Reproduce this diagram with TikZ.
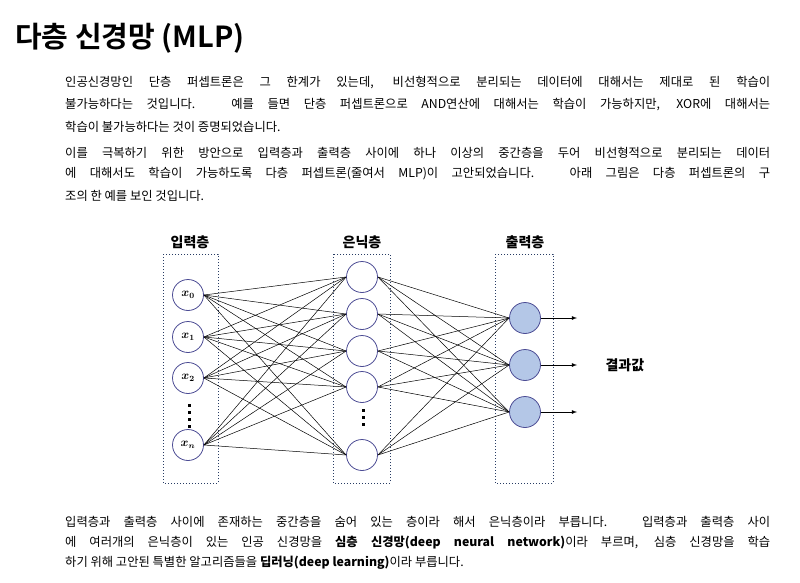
\documentclass[tikz,border=0pt]{standalone}
\usepackage{fontspec}
\setmainfont{Noto Sans CJK KR}
\newfontfamily\titlefont{Noto Sans CJK KR Bold}
\usepackage{amsmath}
\newcommand\fl[1]{\makebox[705pt][s]{#1}}
\newcommand\xv[1]{\ensuremath{\boldsymbol{x}_{\boldsymbol{#1}}}}
\begin{document}
\begin{tikzpicture}[x=1pt,y=-1pt,
  inp/.style={circle,draw=blue!40!black!70,line width=0.8pt,minimum size=31pt,inner sep=0pt,fill=white,font=\large},
  hid/.style={circle,draw=blue!40!black!70,line width=0.8pt,minimum size=31pt,inner sep=0pt,fill=white},
  outn/.style={circle,draw=blue!40!black!70,line width=0.8pt,minimum size=31pt,inner sep=0pt,fill={rgb,255:red,180;green,199;blue,231}},
  layerbox/.style={draw={rgb,255:red,40;green,60;blue,100},dotted,line width=1pt},
  txt/.style={anchor=west,inner sep=0pt,font=\fontsize{12.3}{14}\selectfont},
  lbl/.style={font=\fontsize{14}{16}\selectfont\bfseries},
  wire/.style={line width=0.5pt},
  dotsq/.style={fill=black,minimum width=3pt,minimum height=3pt,inner sep=0pt}]
\useasboundingbox (0,0) rectangle (800,583);
\node[anchor=west,inner sep=0pt,font=\fontsize{29}{32}\titlefont] (title) at (15,38) {다층 신경망 (MLP)};
\node[txt] (p1) at (65,83) {\fl{인공신경망인 단층 퍼셉트론은 그 한계가 있는데, 비선형적으로 분리되는 데이터에 대해서는 제대로 된 학습이}};
\node[txt] (p2) at (65,105) {\fl{불가능하다는 것입니다. 예를 들면 단층 퍼셉트론으로 AND연산에 대해서는 학습이 가능하지만, XOR에 대해서는}};
\node[txt] (p3) at (65,127) {학습이 불가능하다는 것이 증명되었습니다.};
\node[txt] (p4) at (65,153) {\fl{이를 극복하기 위한 방안으로 입력층과 출력층 사이에 하나 이상의 중간층을 두어 비선형적으로 분리되는 데이터}};
\node[txt] (p5) at (65,174) {\fl{에 대해서도 학습이 가능하도록 다층 퍼셉트론(줄여서 MLP)이 고안되었습니다. 아래 그림은 다층 퍼셉트론의 구}};
\node[txt] (p6) at (65,196) {조의 한 예를 보인 것입니다.};
\node[txt] (q1) at (65,522) {\fl{입력층과 출력층 사이에 존재하는 중간층을 숨어 있는 층이라 해서 은닉층이라 부릅니다. 입력층과 출력층 사이}};
\node[txt] (q2) at (65,543) {\fl{에 여러개의 은닉층이 있는 인공 신경망을 \textbf{심층 신경망(deep neural network)}이라 부르며, 심층 신경망을 학습}};
\node[txt] (q3) at (65,563) {하기 위해 고안된 특별한 알고리즘들을 \textbf{딥러닝(deep learning)}이라 부릅니다.};
\draw[layerbox] (163,254) rectangle (218,483);
\draw[layerbox] (333,254) rectangle (390,483);
\draw[layerbox] (495,254) rectangle (553,483);
\node[lbl] (L1) at (190,242) {입력층};
\node[lbl] (L2) at (362,242) {은닉층};
\node[lbl] (L3) at (525,242) {출력층};
\node[inp] (i0) at (188,295) {\xv{0}};
\node[inp] (i1) at (188,337) {\xv{1}};
\node[inp] (i2) at (188,378) {\xv{2}};
\node[inp] (i3) at (188,445) {\xv{n}};
\foreach \y [count=\k] in {405,412,419,426} \node[dotsq] (di\k) at (189,\y) {};
\foreach \y [count=\k] in {277,314,351,387,455} \node[hid] (h\k) at (362,\y) {};
\foreach \y [count=\k] in {410,417,424} \node[dotsq] (dh\k) at (363,\y) {};
\foreach \y [count=\k] in {318,365,412} {
  \node[outn] (o\k) at (525,\y) {};
  \coordinate (e\k) at (577,\y);
  \draw[-latex,line width=0.8pt] (o\k) -- (e\k);
}
\foreach \i in {0,1,2,3} \foreach \h in {1,...,5} \draw[wire] (i\i.east) -- (h\h.west);
\foreach \h in {1,...,5} \foreach \o in {1,2,3} \draw[wire] (h\h.east) -- (o\o.west);
\node[lbl,anchor=west] (res) at (602,365) {결과값};
\end{tikzpicture}
\end{document}
